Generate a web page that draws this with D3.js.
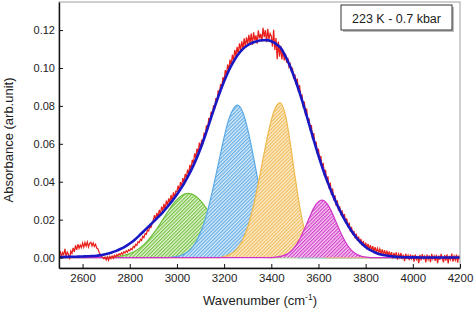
<!DOCTYPE html>
<html>
	<head>
		<meta charset="utf-8">
		<script src="https://d3js.org/d3.v7.min.js"></script>
		<style>
			body { margin: 0; background: #fff; }
			text { font-family: "Liberation Sans", Arial, Helvetica, sans-serif; }
		</style>
	</head>
	<body>
		<script type="text/javascript">
			// all absorbance values below are in units of 1e-3

			// fitted envelope, sampled every 20 cm-1 from 2500
			var fitStart = 2500, fitStep = 20;
			var fitAbs = [
				0.3, 0.3, 0.4, 0.4, 0.5, 0.6, 0.7, 0.8, 1.0, 1.3,
				1.9, 2.6, 3.4, 4.5, 5.8, 7.4, 9.3, 11.6, 14.0, 16.4,
				18.8, 21.3, 23.9, 26.8, 29.9, 33.3, 37.0, 41.3, 46.0, 51.4,
				57.5, 64.5, 72.0, 79.5, 86.5, 93.0, 98.7, 103.4, 107.2, 110.1,
				112.0, 113.3, 114.1, 114.6, 114.7, 114.1, 112.7, 110.5, 106.2, 100.8,
				94.3, 87.0, 79.0, 70.5, 62.0, 53.8, 46.2, 39.4, 33.2, 27.6,
				22.5, 18.0, 14.0, 10.6, 7.8, 5.6, 3.9, 2.7, 1.8, 1.2,
				0.8, 0.5, 0.3, 0.2, 0.1, 0.1, 0.1, 0.0, 0.0, 0.0,
				0.0, 0.0, 0.0, 0.0, 0.0, 0.0
			];

			// measured spectrum, sampled every 5 cm-1 from 2500
			var dataStart = 2500, dataStep = 5;
			var dataAbs = [
				1.2, 3.6, 0.2, 2.6, 1.5, 4.6, 0.8, 2.9, 1.8, -0.9, 3.4, 2.2, 5.1, 3.0, 6.4, 4.1, 7.0, 4.9, 6.6, 5.2,
				7.6, 5.5, 7.9, 6.0, 8.2, 5.6, 7.5, 8.0, 6.1, 7.8, 5.9, 7.0, 5.0, 4.6, 2.8, 1.5, 0.6, 0.1, -0.6, 0.2,
				-1.2, 0.3, -1.4, 0.5, -0.6, 0.8, -0.4, 1.2, 0.4, 1.6, 0.9, 2.0, 1.4, 2.5, 1.8, 3.0, 2.4, 3.6, 2.9, 4.1,
				3.6, 4.8, 4.2, 5.9, 5.3, 7.0, 6.4, 8.3, 7.9, 9.6, 9.0, 11.2, 10.5, 12.6, 12.3, 14.5, 14.0, 16.4, 15.9, 18.2,
				19.8, 22.4, 19.9, 23.6, 21.5, 25.2, 22.8, 26.9, 24.6, 28.3, 25.4, 30.0, 27.6, 31.2, 28.9, 33.0, 30.1, 34.4, 31.6, 35.0,
				34.8, 37.9, 35.0, 39.8, 37.4, 41.9, 39.6, 44.1, 41.9, 46.4, 44.0, 48.9, 46.8, 51.6, 49.6, 54.9, 52.7, 57.5, 55.3, 60.6,
				57.6, 62.2, 59.8, 65.9, 64.1, 69.7, 67.5, 73.6, 71.6, 77.0, 74.9, 80.3, 78.4, 84.1, 82.0, 88.2, 85.9, 91.5, 89.7, 95.1,
				93.4, 98.9, 96.2, 101.8, 99.0, 104.4, 101.7, 107.0, 103.8, 109.5, 106.1, 111.2, 107.5, 113.0, 109.4, 114.1, 110.2, 115.6, 111.3, 116.2,
				112.4, 117.5, 113.0, 118.2, 112.1, 118.8, 114.5, 117.2, 112.8, 119.8, 115.6, 118.0, 113.9, 121.2, 116.3, 120.0, 113.6, 120.7, 115.1, 118.2,
				116.8, 111.2, 120.2, 109.5, 115.8, 104.6, 113.9, 106.0, 111.7, 104.5, 109.6, 104.0, 107.5, 102.8, 105.3, 100.6, 102.1, 98.4, 99.6, 94.2,
				96.6, 91.2, 94.4, 87.5, 90.9, 83.6, 86.1, 79.2, 82.3, 75.0, 78.6, 71.1, 73.4, 67.0, 69.9, 62.3, 65.7, 58.8, 61.2, 54.6,
				57.4, 50.9, 53.6, 47.1, 50.0, 43.2, 46.3, 39.6, 42.8, 36.3, 39.5, 33.0, 36.4, 30.2, 32.9, 27.3, 30.1, 24.8, 27.0, 22.4,
				24.9, 20.8, 23.0, 18.1, 20.6, 15.9, 18.4, 13.8, 16.2, 12.0, 14.1, 10.2, 12.6, 8.9, 11.0, 7.6, 9.9, 6.4, 8.8, 5.5,
				7.9, 5.1, 7.2, 4.3, 6.6, 3.8, 6.0, 3.2, 5.5, 2.9, 4.9, 2.4, 4.6, 2.0, 4.3, 1.6, 3.9, 1.2, 3.6, 0.9,
				3.2, 0.6, 2.9, -0.4, 2.5, 0.2, 2.8, -1.1, 1.9, 0.0, 2.4, -0.8, 1.6, -1.9, 2.0, -0.3, 1.2, -1.4, 1.6, -0.6,
				1.3, -2.2, 1.5, -0.9, 0.9, -3.0, 1.4, -1.5, 1.8, -0.5, 0.7, -2.6, 1.6, -1.0, 1.1, -2.4, 2.0, -0.7, 0.8, -1.8,
				1.5, -2.9, 1.0, -1.2, 1.9, -0.4, -2.5, 1.3, -1.6, 1.7, -3.1, 0.9, -0.9, 2.1, -2.2, 0.7, -1.3, 1.6, -2.7, 1.1,
				-0.8
			];

			// gaussian components, [wavenumber, absorbance]
			var compGreen = [[2500,0],[2700,0.1],[2740,0.5],[2780,1.3],[2800,2.1],[2820,3.2],[2840,4.8],[2860,6.8],
				[2880,9.4],[2900,12.6],[2920,16.1],[2940,20.0],[2960,23.9],[2980,27.5],[3000,30.5],[3020,32.7],
				[3048,33.9],[3080,32.4],[3100,30.0],[3120,26.8],[3140,23.1],[3160,19.2],[3180,15.4],[3200,11.9],
				[3240,6.4],[3280,3.0],[3320,1.2],[3360,0.4],[3400,0],[4200,0]];
			var compBlue = [[2500,0],[2960,0],[2980,0.3],[3000,0.6],[3020,1.2],[3040,2.5],[3060,4.6],[3080,8.1],
				[3100,13.2],[3120,20.3],[3140,29.6],[3160,40.5],[3180,52.0],[3200,63.5],[3220,73.0],[3240,78.6],
				[3256,80.4],[3280,76.4],[3300,67.6],[3320,55.9],[3340,43.0],[3360,30.8],[3380,20.5],[3400,12.7],
				[3420,7.3],[3440,3.9],[3460,1.9],[3480,0.9],[3500,0.4],[3520,0],[4200,0]];
			var compOrange = [[2500,0],[3180,0],[3200,0.6],[3220,1.4],[3240,2.8],[3260,5.4],[3280,9.7],[3300,16.1],
				[3320,25.0],[3340,36.2],[3360,48.9],[3380,61.6],[3400,72.5],[3420,79.6],[3437,81.6],[3460,75.0],
				[3480,60.8],[3500,43.3],[3520,27.2],[3540,15.0],[3560,7.3],[3580,3.1],[3600,1.3],[3620,0.5],
				[3640,0],[4200,0]];
			var compMagenta = [[2500,0],[3400,0],[3420,0.2],[3440,0.6],[3460,1.4],[3480,2.9],[3500,5.6],[3520,9.6],
				[3540,14.9],[3560,20.7],[3580,26.1],[3600,29.5],[3614,30.3],[3640,27.8],[3660,23.0],[3680,17.2],
				[3700,11.6],[3720,7.0],[3740,3.8],[3760,1.9],[3780,0.8],[3800,0.3],[3820,0],[4200,0]];

			var xTicks = [2600, 2800, 3000, 3200, 3400, 3600, 3800, 4000, 4200];
			var yTicks = [0, 0.02, 0.04, 0.06, 0.08, 0.10, 0.12];
			var legendLabel = "223 K - 0.7 kbar";

			function draw() {
				"use strict";
				var width = 474, height = 310;
				var left = 59, right = 460, top = 2, bottom = 268;

				var svg = d3.select("body").append("svg")
					.attr("width", width)
					.attr("height", height);

				var x = d3.scaleLinear().domain([2500, 4200]).range([left, right]);
				var y = d3.scaleLinear().domain([-0.0055, 0.1348]).range([bottom, top]);
				var abs = function (v) { return y(v / 1000); };

				var defs = svg.append("defs");
				defs.append("clipPath").attr("id", "plot-clip")
					.append("rect")
						.attr("x", left).attr("y", top)
						.attr("width", right - left).attr("height", bottom - top);

				// hatched fills for the components
				var comps = [
					{id: "h-green", line: "#6cbf36", bg: "#e6f4d8", data: compGreen},
					{id: "h-blue", line: "#5aa9e6", bg: "#dcecf9", data: compBlue},
					{id: "h-orange", line: "#f0b94f", bg: "#fcedd2", data: compOrange},
					{id: "h-magenta", line: "#d233c9", bg: "#f5d0f1", data: compMagenta}
				];
				comps.forEach(function (c) {
					var p = defs.append("pattern")
						.attr("id", c.id)
						.attr("patternUnits", "userSpaceOnUse")
						.attr("width", 2.5).attr("height", 2.5)
						.attr("patternTransform", "rotate(45)");
					p.append("rect").attr("width", 2.5).attr("height", 2.5).attr("fill", c.bg);
					p.append("line")
						.attr("x1", 0.6).attr("y1", 0).attr("x2", 0.6).attr("y2", 2.5)
						.attr("stroke", c.line).attr("stroke-width", 1.1);
				});

				var plot = svg.append("g").attr("clip-path", "url(#plot-clip)");

				var area = d3.area()
					.x(function (d) { return x(d[0]); })
					.y0(y(0))
					.y1(function (d) { return abs(d[1]); })
					.curve(d3.curveMonotoneX);
				var outline = d3.line()
					.x(function (d) { return x(d[0]); })
					.y(function (d) { return abs(d[1]); })
					.curve(d3.curveMonotoneX);

				comps.forEach(function (c) {
					plot.append("path")
						.datum(c.data)
						.attr("d", area)
						.attr("fill", "url(#" + c.id + ")");
					plot.append("path")
						.datum(c.data)
						.attr("d", outline)
						.attr("fill", "none")
						.attr("stroke", c.line)
						.attr("stroke-width", 1.2);
				});

				// measured data
				plot.append("path")
					.datum(dataAbs)
					.attr("d", d3.line()
						.x(function (d, i) { return x(dataStart + i * dataStep); })
						.y(function (d) { return abs(d); }))
					.attr("fill", "none")
					.attr("stroke", "#e8201c")
					.attr("stroke-width", 1.25);

				// fit
				plot.append("path")
					.datum(fitAbs)
					.attr("d", d3.line()
						.x(function (d, i) { return x(fitStart + i * fitStep); })
						.y(function (d) { return abs(d); })
						.curve(d3.curveMonotoneX))
					.attr("fill", "none")
					.attr("stroke", "#1818c4")
					.attr("stroke-width", 2.6);

				// frame
				svg.append("rect")
					.attr("x", left).attr("y", top)
					.attr("width", right - left).attr("height", bottom - top)
					.attr("fill", "none")
					.attr("stroke", "#a0a0a0")
					.attr("stroke-width", 1);

				// axes
				var yAxis = svg.append("g")
					.attr("transform", "translate(" + left + ",0)")
					.call(d3.axisLeft(y)
						.tickValues(yTicks)
						.tickSize(-4)
						.tickSizeOuter(0)
						.tickPadding(4)
						.tickFormat(d3.format(".2f")));
				var xAxis = svg.append("g")
					.attr("transform", "translate(0," + bottom + ")")
					.call(d3.axisBottom(x)
						.tickValues(xTicks)
						.tickSize(-4)
						.tickSizeOuter(0)
						.tickPadding(6)
						.tickFormat(d3.format("d")));
				[xAxis, yAxis].forEach(function (a) {
					a.select(".domain").attr("stroke", "#111").attr("stroke-width", 1.4);
					a.selectAll(".tick line").attr("stroke", "#111");
					a.selectAll(".tick text")
						.attr("fill", "#222")
						.style("font-family", "'Liberation Sans', Arial, sans-serif");
				});
				yAxis.selectAll(".tick text").style("font-size", "11px");
				xAxis.selectAll(".tick text").style("font-size", "11.5px");

				// axis titles
				var xt = svg.append("text")
					.attr("x", 260).attr("y", 305)
					.attr("text-anchor", "middle")
					.style("font-size", "13px")
					.attr("fill", "#222");
				xt.append("tspan").text("Wavenumber (cm");
				xt.append("tspan").attr("dy", -5).style("font-size", "8.5px").text("-1");
				xt.append("tspan").attr("dy", 5).text(")");

				svg.append("text")
					.attr("transform", "translate(13,140) rotate(-90)")
					.attr("text-anchor", "middle")
					.style("font-size", "13px")
					.attr("fill", "#222")
					.text("Absorbance (arb.unit)");

				// label box
				svg.append("rect")
					.attr("x", 343).attr("y", 7)
					.attr("width", 111).attr("height", 25)
					.attr("fill", "#bdbdbd");
				svg.append("rect")
					.attr("x", 341).attr("y", 5)
					.attr("width", 111).attr("height", 25)
					.attr("fill", "#fff")
					.attr("stroke", "#333")
					.attr("stroke-width", 1);
				svg.append("text")
					.attr("x", 396.5).attr("y", 22.5)
					.attr("text-anchor", "middle")
					.style("font-size", "12.5px")
					.attr("fill", "#222")
					.text(legendLabel);
			}
			draw();
		</script>
	</body>
</html>
